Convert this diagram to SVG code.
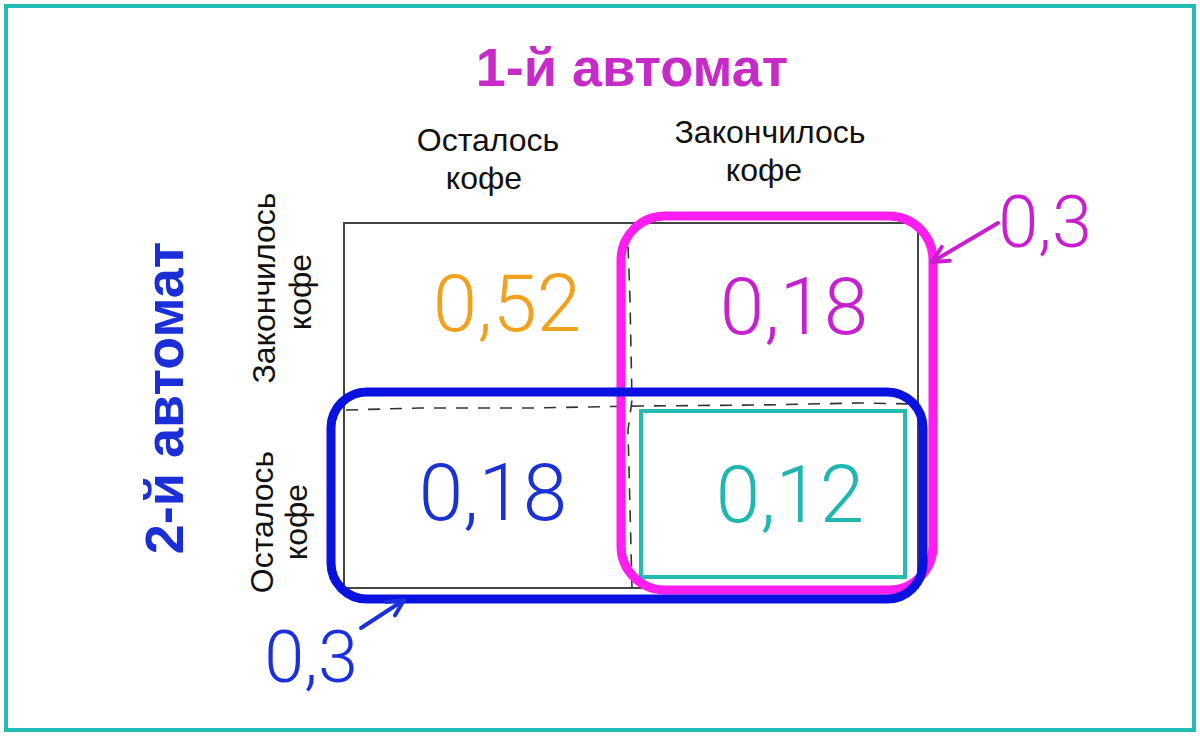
<svg xmlns="http://www.w3.org/2000/svg" width="1200" height="736" viewBox="0 0 1200 736">
<style>
.lbl{font-family:"Liberation Sans",sans-serif;font-size:32px;fill:#111;text-anchor:middle}
.num{font-family:Roboto,"Liberation Sans",sans-serif;font-weight:300;font-size:80px;text-anchor:middle}
.ttl{font-family:"Liberation Sans",sans-serif;font-weight:bold;font-size:54px;text-anchor:middle}
.dash{fill:none;stroke:#333;stroke-width:1.6;stroke-dasharray:12 10}
</style>
<defs>
<marker id="arrM" viewBox="0 0 20 20" refX="18" refY="10" markerWidth="20" markerHeight="20" markerUnits="userSpaceOnUse" orient="auto">
<path d="M2,2 L18,10 L2,18" fill="none" stroke="#c81ecf" stroke-width="4" stroke-linecap="round"/>
</marker>
<marker id="arrB" viewBox="0 0 20 20" refX="18" refY="10" markerWidth="20" markerHeight="20" markerUnits="userSpaceOnUse" orient="auto">
<path d="M2,2 L18,10 L2,18" fill="none" stroke="#1a2fe0" stroke-width="4" stroke-linecap="round"/>
</marker>
</defs>
<rect x="0" y="0" width="1200" height="736" fill="#fff"/>
<rect x="6" y="6" width="1188" height="724" fill="none" stroke="#22bdb5" stroke-width="4"/>

<g id="title1"><text class="ttl" x="632" y="86" fill="#c62bc8">1-й автомат</text></g>
<g id="title2"><text class="ttl" transform="translate(183,398) rotate(-90)" fill="#1a2fd8">2-й автомат</text></g>

<g id="col-headers">
<text class="lbl" x="488" y="151">Осталось</text>
<text class="lbl" x="484" y="189">кофе</text>
<text class="lbl" x="770" y="143">Закончилось</text>
<text class="lbl" x="764" y="181">кофе</text>
</g>
<g id="row-headers">
<text class="lbl" transform="translate(275,288) rotate(-90)">Закончилось</text>
<text class="lbl" transform="translate(311,292) rotate(-90)">кофе</text>
<text class="lbl" transform="translate(273,522) rotate(-90)">Осталось</text>
<text class="lbl" transform="translate(307,522) rotate(-90)">кофе</text>
</g>

<g id="grid">
<rect x="344" y="223" width="574" height="365" fill="none" stroke="#444" stroke-width="2"/>
<path class="dash" d="M632,225 L628,245 L630,300 L632,400 L628,430 L632,588"/>
<path class="dash" d="M346,410 L420,408 L530,408 L640,406 L760,405 L860,403 L918,404"/>
</g>

<g id="cell-052"><text class="num" x="507" y="331" fill="#f0a21e">0,52</text></g>
<g id="cell-018-top"><text class="num" x="794" y="334" fill="#c521cf">0,18</text></g>
<g id="cell-018-bottom"><text class="num" x="493" y="520" fill="#1a31d3">0,18</text></g>
<g id="cell-012"><text class="num" x="790" y="522" fill="#1fb7b0">0,12</text></g>

<g id="teal-box"><rect x="641" y="411" width="264" height="166" fill="none" stroke="#25bab2" stroke-width="4"/></g>
<g id="magenta-box"><rect x="621" y="216" width="312" height="374" rx="44" fill="none" stroke="#ff1df0" stroke-width="9"/></g>
<g id="blue-box"><rect x="331" y="392" width="592" height="207" rx="36" fill="none" stroke="#0a12e0" stroke-width="9"/></g>

<g id="label-03-m"><text class="num" x="1045" y="247" fill="#c81ecf" style="font-size:72px">0,3</text></g>
<g id="label-03-b"><text class="num" x="311" y="682" fill="#1a2fe0" style="font-size:72px">0,3</text></g>

<g id="connectors">
<line x1="998" y1="223" x2="932" y2="262" stroke="#c81ecf" stroke-width="4" stroke-linecap="round" marker-end="url(#arrM)"/>
<line x1="361" y1="628" x2="404" y2="600" stroke="#1a2fe0" stroke-width="4" stroke-linecap="round" marker-end="url(#arrB)"/>
</g>
</svg>
